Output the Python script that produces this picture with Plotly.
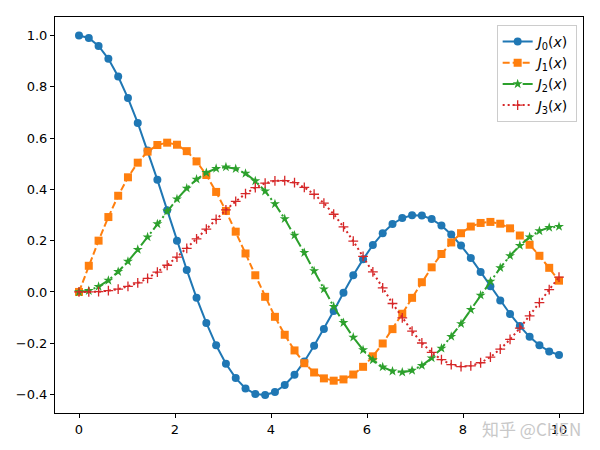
import plotly.graph_objects as go

# sample points (50 evenly spaced values from 0 to 10)
x_vals = [0.000, 0.204, 0.408, 0.612, 0.816, 1.020, 1.224, 1.429, 1.633, 1.837,
          2.041, 2.245, 2.449, 2.653, 2.857, 3.061, 3.265, 3.469, 3.673, 3.878,
          4.082, 4.286, 4.490, 4.694, 4.898, 5.102, 5.306, 5.510, 5.714, 5.918,
          6.122, 6.327, 6.531, 6.735, 6.939, 7.143, 7.347, 7.551, 7.755, 7.959,
          8.163, 8.367, 8.571, 8.776, 8.980, 9.184, 9.388, 9.592, 9.796, 10.000]

j0_vals = [1.000, 0.990, 0.959, 0.909, 0.840, 0.756, 0.659, 0.551, 0.437, 0.319,
           0.200, 0.086, -0.023, -0.121, -0.208, -0.280, -0.336, -0.376, -0.398, -0.402,
           -0.390, -0.363, -0.323, -0.271, -0.210, -0.144, -0.074, -0.003, 0.065, 0.127,
           0.183, 0.229, 0.265, 0.288, 0.299, 0.298, 0.284, 0.259, 0.224, 0.181,
           0.132, 0.078, 0.022, -0.033, -0.086, -0.133, -0.175, -0.208, -0.232, -0.246]

j1_vals = [0.000, 0.102, 0.200, 0.292, 0.375, 0.447, 0.504, 0.547, 0.573, 0.582,
           0.574, 0.549, 0.509, 0.456, 0.390, 0.316, 0.235, 0.150, 0.065, -0.019,
           -0.097, -0.167, -0.228, -0.278, -0.314, -0.337, -0.346, -0.341, -0.322, -0.292,
           -0.251, -0.201, -0.145, -0.085, -0.023, 0.038, 0.096, 0.148, 0.193, 0.229,
           0.255, 0.269, 0.273, 0.266, 0.248, 0.220, 0.184, 0.141, 0.094, 0.044]

j2_vals = [0.000, 0.005, 0.021, 0.045, 0.079, 0.119, 0.165, 0.214, 0.265, 0.315,
           0.362, 0.404, 0.439, 0.465, 0.481, 0.487, 0.480, 0.462, 0.433, 0.393,
           0.343, 0.285, 0.221, 0.153, 0.082, 0.011, -0.057, -0.120, -0.177, -0.226,
           -0.265, -0.293, -0.309, -0.313, -0.306, -0.287, -0.258, -0.220, -0.174, -0.124,
           -0.069, -0.013, 0.041, 0.094, 0.141, 0.181, 0.214, 0.238, 0.251, 0.255]

j3_vals = [0.000, 0.000, 0.001, 0.005, 0.011, 0.022, 0.035, 0.053, 0.077, 0.104,
           0.136, 0.170, 0.207, 0.245, 0.283, 0.320, 0.353, 0.383, 0.407, 0.424,
           0.433, 0.434, 0.426, 0.408, 0.381, 0.346, 0.303, 0.254, 0.198, 0.139,
           0.078, 0.016, -0.045, -0.101, -0.153, -0.199, -0.236, -0.264, -0.283, -0.291,
           -0.288, -0.276, -0.254, -0.223, -0.185, -0.141, -0.093, -0.042, 0.009, 0.058]

x_ticks = [0, 2, 4, 6, 8, 10]
y_ticks = [-0.4, -0.2, 0.0, 0.2, 0.4, 0.6, 0.8, 1.0]

fig = go.Figure()

# J0: solid line with circles
fig.add_trace(go.Scatter(x=x_vals, y=j0_vals, mode='lines+markers',
                         name='<i>J</i><sub>0</sub>(<i>x</i>)',
                         line=dict(color='#1f77b4', width=2),
                         marker=dict(symbol='circle', size=8, color='#1f77b4')))
# J1: dashed line with squares
fig.add_trace(go.Scatter(x=x_vals, y=j1_vals, mode='lines+markers',
                         name='<i>J</i><sub>1</sub>(<i>x</i>)',
                         line=dict(color='#ff7f0e', width=2, dash='7px,3px'),
                         marker=dict(symbol='square', size=8, color='#ff7f0e')))
# J2: dash-dot line with stars
fig.add_trace(go.Scatter(x=x_vals, y=j2_vals, mode='lines+markers',
                         name='<i>J</i><sub>2</sub>(<i>x</i>)',
                         line=dict(color='#2ca02c', width=2, dash='12px,3px,2px,3px'),
                         marker=dict(symbol='star', size=7.5, color='#2ca02c')))
# J3: dotted line with plus markers
fig.add_trace(go.Scatter(x=x_vals, y=j3_vals, mode='lines+markers',
                         name='<i>J</i><sub>3</sub>(<i>x</i>)',
                         line=dict(color='#d62728', width=2, dash='2px,3px'),
                         marker=dict(symbol='cross-thin', size=7,
                                     line=dict(color='#d62728', width=1.3))))

axis_style = dict(showgrid=False, zeroline=False, showline=True, linecolor='black',
                  linewidth=1, mirror=True, ticks='outside', ticklen=4, tickwidth=1,
                  tickcolor='black', tickfont=dict(size=13, color='black'))

fig.update_xaxes(range=[-0.5, 10.5], tickvals=x_ticks, **axis_style)
fig.update_yaxes(range=[-0.472, 1.072], tickvals=y_ticks, tickformat='.1f', **axis_style)

# the page body adds an 8px offset, so margins are trimmed to match
fig.update_layout(
    width=600, height=450,
    margin=dict(l=47, r=25, t=9, b=45),
    plot_bgcolor='white', paper_bgcolor='white',
    font=dict(family='DejaVu Sans', size=13, color='black'),
    legend=dict(x=0.988, y=0.98, xanchor='right', yanchor='top',
                bgcolor='rgba(255,255,255,0.8)', bordercolor='#cccccc', borderwidth=1,
                font=dict(size=14), tracegroupgap=0),
    showlegend=True,
)

# watermark
fig.add_annotation(text='知乎 @CHEN', xref='paper', yref='paper', x=1.0, y=-0.04,
                   xanchor='right', yanchor='middle', showarrow=False,
                   font=dict(family='Noto Sans CJK SC', size=17, color='#c8c8c8'))

fig.write_html("out.html")
